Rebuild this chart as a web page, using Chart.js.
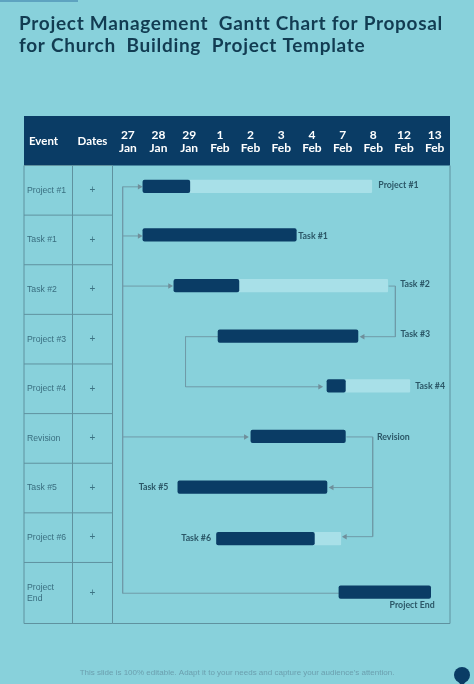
<!DOCTYPE html>
<html><head><meta charset="utf-8">
<style>html,body{margin:0;padding:0;background:#88d1db;overflow:hidden}canvas{display:block}</style>
<script src="https://cdn.jsdelivr.net/npm/chart.js@4/dist/chart.umd.min.js"></script>
</head><body><canvas id="c" width="474" height="684"></canvas>
<script>
const titleLines = ["Project Management  Gantt Chart for Proposal", "for Church  Building  Project Template"];
const footerText = "This slide is 100% editable. Adapt it to your needs and capture your audience\u2019s attention.";
const eventHeader = "Event";
const datesHeader = "Dates";
const events = ["Project #1","Task #1","Task #2","Project #3","Project #4","Revision","Task #5","Project #6",["Project","End"]];
const dates = ["+","+","+","+","+","+","+","+","+"];
const columns = [["27","Jan"],["28","Jan"],["29","Jan"],["1","Feb"],["2","Feb"],["3","Feb"],["4","Feb"],["7","Feb"],["8","Feb"],["12","Feb"],["13","Feb"]];

// Gantt values, in date-column units (x) and row units (y)
const barNames  = ["Project #1","Task #1","Task #2","Task #3","Task #4","Revision","Task #5","Task #6","Project End"];
const barRows   = [0.42,1.40,2.42,3.44,4.44,5.46,6.48,7.52,8.60];
const doneStart = [0.99,0.99,2.00,3.44,6.99,4.51,2.13,3.39,7.38];
const doneEnd   = [2.52,5.99,4.12,8.00,7.59,7.59,6.99,6.58,10.37];
const planEnd   = [8.45,null,8.97,null,9.69,null,null,7.44,null];

// Dependency lines: [column,row] vertices; the last vertex carries the arrowhead when one is listed
const trunkLine   = [[0.33,0.43],[0.33,8.62],[7.38,8.62]];
const arrowP1     = [[0.33,0.43],[0.88,0.43]];
const arrowT1     = [[0.33,1.42],[0.88,1.42]];
const arrowT2     = [[0.33,2.43],[1.87,2.43]];
const arrowRev    = [[0.33,5.47],[4.34,5.47]];
const linkT2T3    = [[9.00,2.43],[9.22,2.43],[9.22,3.45],[8.16,3.45]];
const linkP3P4    = [[3.44,3.45],[2.38,3.45],[2.38,4.46],[6.76,4.46]];
const linkRevT6   = [[7.62,5.47],[8.48,5.47],[8.48,7.48],[7.58,7.48]];
const branchT5    = [[8.48,6.49],[7.15,6.49]];
const connectors  = [trunkLine,arrowP1,arrowT1,arrowT2,arrowRev,linkT2T3,linkP3P4,linkRevT6,branchT5];
const arrowTurns  = [null,90,90,90,90,270,90,270,270];

const ROWS_END = 9.23, NAVY = "#0a3c65", PALE = "#a8e0e8", LINE = "#6f9ba8", GRID = "#5f929f";
const SANS = '"Liberation Sans", Arial, sans-serif', HEAD = 'Lato, "Open Sans", sans-serif';

// label placement relative to each bar's end, in pixels
const labelPlace = [
  {end:"plan",dx:6.5,dy:-1,align:"left"},{end:"done",dx:2,dy:1,align:"left"},{end:"plan",dx:12.5,dy:-1,align:"left"},
  {end:"done",dx:42.5,dy:-2,align:"left"},{end:"plan",dx:5.5,dy:0,align:"left"},{end:"done",dx:31.5,dy:1,align:"left"},
  {end:"start",dx:-9.5,dy:0,align:"right"},{end:"start",dx:-5.5,dy:0,align:"right"},{end:"done",dx:4,dy:12.5,align:"right"}];

const table = {
  id:"table",
  beforeDraw(ch){
    const c=ch.ctx,{chartArea:a,scales:{y}}=ch,L=24,D=72.5;
    c.save();
    c.fillStyle="#5ea3c0"; c.fillRect(0,0,78,2);
    c.fillStyle=NAVY; c.fillRect(L,116,a.right-L,a.top-116);
    c.strokeStyle=GRID; c.lineWidth=1; c.beginPath();
    for(let i=0;i<=events.length;i++){const p=i<events.length?y.getPixelForValue(i):a.bottom;
      c.moveTo(L,p);c.lineTo(a.left,p);}
    [L,D,a.left].forEach(x=>{c.moveTo(x,a.top);c.lineTo(x,a.bottom);});
    c.moveTo(a.left,a.bottom);c.lineTo(a.right,a.bottom);
    c.moveTo(a.right,a.top);c.lineTo(a.right,a.bottom);
    c.stroke();
    c.fillStyle="#fff";c.font="bold 11.5px "+HEAD;c.textAlign="center";c.textBaseline="middle";
    c.fillText(eventHeader,43.5,141.5);c.fillText(datesHeader,92.5,141.5);
    c.fillStyle="#3d7484";c.font="10px "+SANS;
    y.ticks.forEach((t,i)=>c.fillText(dates[i],92.5,y.getPixelForValue(t.value)));
    c.fillStyle="#123c52";c.font="bold 19px "+HEAD;c.textAlign="left";
    c.letterSpacing="0.7px";
    c.fillText(titleLines[0],19,23.5);c.fillText(titleLines[1],19,46);
    c.letterSpacing="0px";
    c.fillStyle="#6b9fae";c.font="8px "+SANS;c.textAlign="center";
    c.fillText(footerText,237,673);
    c.fillStyle=NAVY;c.beginPath();c.arc(462,675,8,0,Math.PI*2);c.fill();
    c.beginPath();c.moveTo(458,681);c.lineTo(466,681);c.lineTo(464,684);c.lineTo(460,684);c.closePath();c.fill();
    c.restore();
  },
  afterDatasetsDraw(ch){
    const c=ch.ctx,{scales:{x,y}}=ch;
    c.save();c.fillStyle="#2b5767";c.font="bold 8.8px "+HEAD;c.textBaseline="middle";
    barNames.forEach((n,i)=>{const p=labelPlace[i];
      const v=p.end==="plan"?planEnd[i]:p.end==="done"?doneEnd[i]:doneStart[i];
      c.textAlign=p.align;
      c.fillText(n,x.getPixelForValue(v)+p.dx,y.getPixelForValue(barRows[i])+p.dy);});
    c.restore();
  }
};

const pts = list => list.map(([x,y])=>({x,y}));
const lineSets = connectors.map((path,k)=>({
  type:"scatter",showLine:true,data:pts(path),borderColor:LINE,borderWidth:1,
  backgroundColor:"#6f8f9b",pointBorderWidth:0,order:3,
  pointStyle:"triangle",
  pointRadius:path.map((_,i)=>arrowTurns[k]!==null&&i===path.length-1?3.2:0),
  pointRotation:arrowTurns[k]||0,pointHoverRadius:0
}));
const barBase = {type:"bar",indexAxis:"y",barThickness:12.6,grouped:false,borderSkipped:false};

new Chart(document.getElementById("c"),{
  data:{datasets:[
    {...barBase,label:"Done",order:1,backgroundColor:NAVY,borderRadius:2,
     data:barRows.map((r,i)=>({y:r,x:[doneStart[i],doneEnd[i]]}))},
    {...barBase,label:"Planned",order:2,backgroundColor:PALE,borderRadius:1,
     data:barRows.map((r,i)=>({y:r,x:planEnd[i]===null?null:[doneEnd[i],planEnd[i]]}))},
    ...lineSets
  ]},
  options:{
    responsive:false,animation:false,devicePixelRatio:1,
    layout:{padding:{top:116,bottom:60.5,left:27,right:24}},
    plugins:{legend:{display:false},tooltip:{enabled:false},title:{display:false}},
    scales:{
      x:{type:"linear",position:"top",min:0,max:columns.length,offset:false,
        grid:{display:false,tickLength:0},border:{display:false},
        afterBuildTicks:s=>{s.ticks=columns.map((_,i)=>({value:i+0.5}));},
        afterFit:s=>{s.height=49.5;},
        ticks:{autoSkip:false,maxRotation:0,minRotation:0,padding:11.5,color:"#fff",
          font:{family:'Lato, "Open Sans", sans-serif',weight:"bold",size:12,lineHeight:1.03},
          callback:(v,i)=>columns[i]}},
      y:{type:"linear",reverse:true,min:0,max:ROWS_END,offset:false,
        grid:{display:false,tickLength:0},border:{display:false},
        afterBuildTicks:s=>{s.ticks=events.map((_,i)=>({value:i===events.length-1?i+0.62:i+0.5}));},
        afterFit:s=>{s.width=85.5;},
        ticks:{autoSkip:false,crossAlign:"far",padding:0,color:"#3a6f80",
          font:{family:'"Liberation Sans", Arial, sans-serif',size:8.7,lineHeight:1.2},
          callback:(v,i)=>events[i]}}
    }
  },
  plugins:[table]
});
</script></body></html>
